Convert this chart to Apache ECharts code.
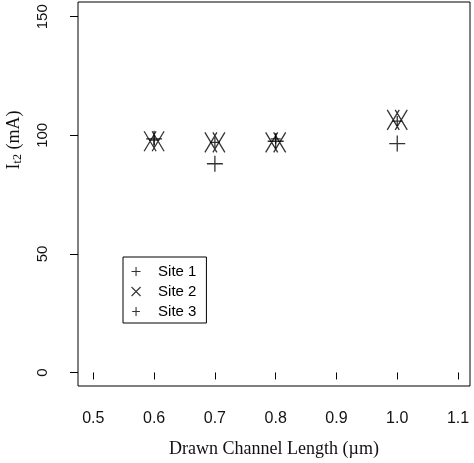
<!DOCTYPE html>
<html>
<head>
<meta charset="utf-8">
<script src="https://cdn.jsdelivr.net/npm/echarts@6/dist/echarts.min.js"></script>
<style>html,body{margin:0;padding:0;background:#fff;}#c{width:474px;height:463px;}</style>
</head>
<body>
<div id="c"></div>
<script>
// Data
var xTicks = [0.5, 0.6, 0.7, 0.8, 0.9, 1.0, 1.1];
var yTicks = [0, 50, 100, 150];
var lengths = [0.6, 0.7, 0.8, 1.0];
var site1 = [98.5, 88, 97.5, 96.5];
var site2 = [97.5, 97, 97, 106.5];
var site3 = [98, 97, 98.5, 106];
var seriesNames = ['Site 1', 'Site 2', 'Site 3'];

function pairs(xs, ys) { return xs.map(function (x, i) { return [x, ys[i]]; }); }

var plusPath = 'path://M0,5L10,5M5,0L5,10';
var crossPath = 'path://M0,0L10,10M10,0L0,10';
var doubleCross = 'path://M0,0L12,20M12,0L0,20M8,0L20,20M20,0L8,20';

var markStyle = { color: 'transparent', borderColor: '#000', borderWidth: 1.3 };

var chart = echarts.init(document.getElementById('c'), null, { renderer: 'canvas' });
chart.setOption({
  animation: false,
  backgroundColor: '#fff',
  grid: { left: 78, right: 4, top: 2, bottom: 70.5, show: true, borderColor: '#000', borderWidth: 1, containLabel: false },
  xAxis: {
    type: 'value', min: 0.4748, max: 1.1197,
    axisLine: { show: false },
    splitLine: { show: false },
    axisTick: { show: true, inside: false, length: 7, customValues: xTicks, lineStyle: { color: '#000', width: 1 } },
    axisLabel: { customValues: xTicks, margin: 25, fontFamily: 'Liberation Sans', fontSize: 16, color: '#111',
      formatter: function (v) { return v.toFixed(1); } },
    name: 'Drawn Channel Length (\u00b5m)', nameLocation: 'middle', nameGap: 54,
    nameTextStyle: { fontFamily: 'Liberation Serif', fontSize: 18, color: '#111' }
  },
  yAxis: {
    type: 'value', min: -5.7, max: 156.2,
    axisLine: { show: false },
    splitLine: { show: false },
    axisTick: { show: true, inside: false, length: 8, customValues: yTicks, lineStyle: { color: '#000', width: 1 } },
    axisLabel: { customValues: yTicks, rotate: 90, margin: 28, fontFamily: 'Liberation Sans', fontSize: 15, color: '#111' }
  },
  legend: {
    orient: 'vertical', left: 123, top: 257,
    borderColor: '#000', borderWidth: 1, padding: [7, 10, 4, 8],
    itemWidth: 14, itemHeight: 9, itemGap: 5,
    textStyle: { fontFamily: 'Liberation Sans', fontSize: 15, color: '#000', padding: [0, 0, 0, 10] },
    itemStyle: { color: 'transparent', borderColor: '#000', borderWidth: 1.1 },
    data: [
      { name: seriesNames[0], icon: plusPath },
      { name: seriesNames[1], icon: crossPath },
      { name: seriesNames[2], icon: 'path://M2,5L8,5M5,1.5L5,8.5' }
    ]
  },
  graphic: [{
    type: 'text', x: 14, y: 140, rotation: Math.PI / 2,
    style: {
      text: '{a|I}{b|t2}{a| (mA)}',
      align: 'center', verticalAlign: 'middle',
      fill: '#111',
      rich: {
        a: { fontFamily: 'Liberation Serif', fontSize: 18, fill: '#111' },
        b: { fontFamily: 'Liberation Serif', fontSize: 12, fill: '#111', verticalAlign: 'bottom', padding: [8, 0, 0, 0] }
      }
    }
  }],
  series: [
    { name: seriesNames[0], type: 'scatter', data: pairs(lengths, site1), symbol: plusPath, symbolSize: 16, symbolKeepAspect: true, itemStyle: markStyle },
    { name: seriesNames[1], type: 'scatter', data: pairs(lengths, site2), symbol: doubleCross, symbolSize: [20, 20], symbolKeepAspect: true, itemStyle: markStyle },
    { name: seriesNames[2], type: 'scatter', data: pairs(lengths, site3), symbol: plusPath, symbolSize: 10, symbolKeepAspect: true, itemStyle: markStyle }
  ]
});
</script>
</body>
</html>
